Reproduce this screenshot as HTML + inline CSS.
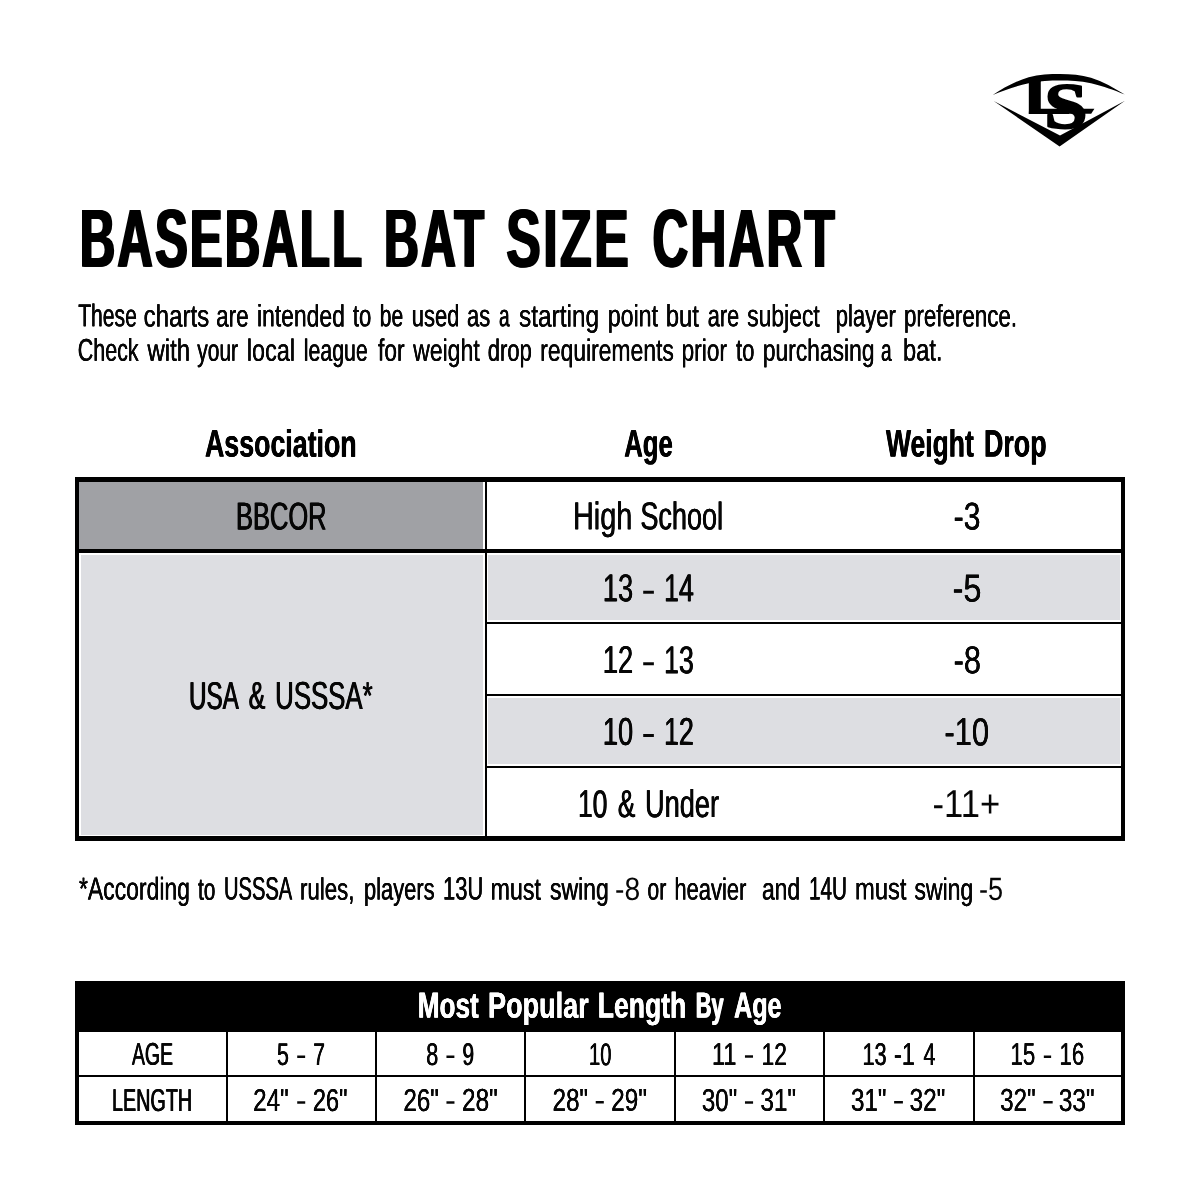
<!DOCTYPE html>
<html lang="en">
<head>
<meta charset="utf-8">
<title>Baseball Bat Size Chart</title>
<style>
html,body{margin:0;padding:0;background:#fff;}
body{width:1200px;height:1200px;position:relative;overflow:hidden;font-family:"Liberation Sans",sans-serif;color:#060606;}
h1,p{margin:0;font-weight:inherit;font-size:inherit}
.b{position:absolute;}
.t{position:absolute;left:0;top:0;display:block;white-space:pre;line-height:1;transform-origin:0 0;}
.k{background:#000;}
.w{background:#fff;}
.g1{background:#a0a1a5;}
.g2{background:#dddee2;}
</style>
</head>
<body>
<!-- logo -->
<svg class="b" style="left:980px;top:60px" width="160" height="100" viewBox="980 60 160 100">
<defs><clipPath id="lc"><path d="M1028.7 76H1041V104H1090V114H1028.7Z"/></clipPath></defs>
<g fill="#000">
<path d="M992.7 94.9C1003 88.3 1015 81.3 1028.7 77.2C1039 74.4 1050 73.9 1060 73.9C1071 73.9 1081 74.8 1091 77.8C1103 81.6 1114 88 1124.8 94.5C1114 90 1104 86.4 1091 83.2C1080 80.8 1070 80.4 1060 80.4C1050 80.4 1040 80.8 1028.7 83.2C1016 86.2 1004 90.2 992.7 94.9Z"/>
<path d="M993.7 101.1L1059.6 146.5L1125 100.7L1060 135.6Z"/>
<path d="M1029 108.8H1094.4L1091.2 113.7H1029Z"/>
<g clip-path="url(#lc)"><text x="0" y="0" transform="translate(1020.3 113.7) scale(1.55 1)" font-family="'Liberation Serif',serif" font-weight="700" font-size="52">L</text></g>
<text x="0" y="0" transform="translate(1044.2 128.2) scale(1.18 1)" font-family="'Liberation Serif',serif" font-weight="700" font-size="66" stroke="#000" stroke-width="2" stroke-linejoin="round">S</text>
</g>

</svg>

<!-- association / age / weight-drop table -->
<div class="tbl1">
<div class="b k" style="left:75px;top:477px;width:1050px;height:363.6px"></div>
<div class="b w" style="left:79.2px;top:481.5px;width:1041.8px;height:354.6px"></div>
<div class="b g1" style="left:79px;top:482px;width:404px;height:67px"></div>
<div class="b g2" style="left:81px;top:555px;width:402px;height:280px"></div>
<div class="b g2" style="left:488px;top:555px;width:632px;height:65px"></div>
<div class="b g2" style="left:488px;top:698px;width:632px;height:66px"></div>
<div class="b k" style="left:484.8px;top:481px;width:2.4px;height:355.5px"></div>
<div class="b k" style="left:79px;top:549px;width:1042.2px;height:4px"></div>
<div class="b k" style="left:487px;top:621.8px;width:634.2px;height:2px"></div>
<div class="b k" style="left:487px;top:694px;width:634.2px;height:1.9px"></div>
<div class="b k" style="left:487px;top:766px;width:634.2px;height:1.9px"></div>
</div>

<!-- most popular length by age table -->
<div class="tbl2">
<div class="b k" style="left:75px;top:981.3px;width:1050px;height:143.7px"></div>
<div class="b w" style="left:79.2px;top:1031.8px;width:1041.8px;height:89px"></div>
<div class="b k" style="left:225.6px;top:1031.5px;width:2px;height:89.5px"></div>
<div class="b k" style="left:375px;top:1031.5px;width:2px;height:89.5px"></div>
<div class="b k" style="left:524.4px;top:1031.5px;width:2px;height:89.5px"></div>
<div class="b k" style="left:673.8px;top:1031.5px;width:2px;height:89.5px"></div>
<div class="b k" style="left:823.2px;top:1031.5px;width:2px;height:89.5px"></div>
<div class="b k" style="left:972.6px;top:1031.5px;width:2px;height:89.5px"></div>
<div class="b k" style="left:79px;top:1075px;width:1042.2px;height:2.1px"></div>
</div>

<!-- text -->
<h1>
<span class="t" style="font-size:82.56px;transform:matrix(0.5884,0.0005,0,1,80.00,196.80);font-weight:700;color:#000;letter-spacing:4.25px;text-shadow:2.09px 0 0 currentColor,-2.09px 0 0 currentColor;">BASEBALL </span>
<span class="t" style="font-size:82.56px;transform:matrix(0.5785,0.0005,0,1,384.20,196.80);font-weight:700;color:#000;letter-spacing:4.32px;text-shadow:2.23px 0 0 currentColor,-2.23px 0 0 currentColor;">BAT </span>
<span class="t" style="font-size:82.56px;transform:matrix(0.6268,0.0005,0,1,506.20,196.84);font-weight:700;color:#000;letter-spacing:3.99px;text-shadow:1.59px 0 0 currentColor,-1.59px 0 0 currentColor;">SIZE </span>
<span class="t" style="font-size:82.56px;transform:matrix(0.5958,0.0005,0,1,652.60,196.78);font-weight:700;color:#000;letter-spacing:4.20px;text-shadow:1.99px 0 0 currentColor,-1.99px 0 0 currentColor;">CHART </span>
</h1>
<p>
<span class="t" style="font-size:31.54px;transform:matrix(0.6695,0.001,0,1,78.20,300.32);text-shadow:0.33px 0 0 currentColor,-0.33px 0 0 currentColor;">These </span>
<span class="t" style="font-size:30.81px;transform:matrix(0.7826,0.001,0,1,143.60,301.47);text-shadow:0.10px 0 0 currentColor,-0.10px 0 0 currentColor;">charts </span>
<span class="t" style="font-size:30.81px;transform:matrix(0.7295,0.001,0,1,216.20,301.50);text-shadow:0.22px 0 0 currentColor,-0.22px 0 0 currentColor;">are </span>
<span class="t" style="font-size:30.81px;transform:matrix(0.7436,0.001,0,1,257.00,301.32);text-shadow:0.18px 0 0 currentColor,-0.18px 0 0 currentColor;">intended </span>
<span class="t" style="font-size:30.81px;transform:matrix(0.7191,0.001,0,1,352.80,301.25);text-shadow:0.24px 0 0 currentColor,-0.24px 0 0 currentColor;">to </span>
<span class="t" style="font-size:30.81px;transform:matrix(0.6814,0.001,0,1,379.80,301.30);text-shadow:0.33px 0 0 currentColor,-0.33px 0 0 currentColor;">be </span>
<span class="t" style="font-size:30.81px;transform:matrix(0.7116,0.001,0,1,411.80,301.30);text-shadow:0.26px 0 0 currentColor,-0.26px 0 0 currentColor;">used </span>
<span class="t" style="font-size:30.81px;transform:matrix(0.7124,0.001,0,1,467.00,301.28);text-shadow:0.26px 0 0 currentColor,-0.26px 0 0 currentColor;">as </span>
<span class="t" style="font-size:30.81px;transform:matrix(0.6182,0.001,0,1,499.00,301.37);text-shadow:0.52px 0 0 currentColor,-0.52px 0 0 currentColor;">a </span>
<span class="t" style="font-size:30.81px;transform:matrix(0.7935,0.001,0,1,519.00,301.52);text-shadow:0.08px 0 0 currentColor,-0.08px 0 0 currentColor;">starting </span>
<span class="t" style="font-size:30.81px;transform:matrix(0.7526,0.001,0,1,607.80,301.26);text-shadow:0.16px 0 0 currentColor,-0.16px 0 0 currentColor;">point </span>
<span class="t" style="font-size:30.81px;transform:matrix(0.7725,0.001,0,1,665.80,301.37);text-shadow:0.12px 0 0 currentColor,-0.12px 0 0 currentColor;">but </span>
<span class="t" style="font-size:30.81px;transform:matrix(0.7051,0.001,0,1,707.80,301.27);text-shadow:0.27px 0 0 currentColor,-0.27px 0 0 currentColor;">are </span>
<span class="t" style="font-size:30.81px;transform:matrix(0.7429,0.001,0,1,747.20,301.30);text-shadow:0.19px 0 0 currentColor,-0.19px 0 0 currentColor;">subject </span>
<span class="t" style="font-size:30.81px;transform:matrix(0.7153,0.001,0,1,835.80,301.32);text-shadow:0.25px 0 0 currentColor,-0.25px 0 0 currentColor;">player </span>
<span class="t" style="font-size:30.81px;transform:matrix(0.7256,0.001,0,1,904.00,301.31);text-shadow:0.22px 0 0 currentColor,-0.22px 0 0 currentColor;">preference. </span>
</p>
<p>
<span class="t" style="font-size:31.54px;transform:matrix(0.6802,0.001,0,1,77.80,334.65);text-shadow:0.30px 0 0 currentColor,-0.30px 0 0 currentColor;">Check </span>
<span class="t" style="font-size:30.81px;transform:matrix(0.7801,0.001,0,1,147.40,335.66);text-shadow:0.11px 0 0 currentColor,-0.11px 0 0 currentColor;">with </span>
<span class="t" style="font-size:30.81px;transform:matrix(0.6818,0.001,0,1,197.20,335.66);text-shadow:0.33px 0 0 currentColor,-0.33px 0 0 currentColor;">your </span>
<span class="t" style="font-size:30.81px;transform:matrix(0.7617,0.001,0,1,246.80,335.68);text-shadow:0.14px 0 0 currentColor,-0.14px 0 0 currentColor;">local </span>
<span class="t" style="font-size:30.81px;transform:matrix(0.6913,0.001,0,1,303.80,335.64);text-shadow:0.31px 0 0 currentColor,-0.31px 0 0 currentColor;">league </span>
<span class="t" style="font-size:30.81px;transform:matrix(0.7398,0.001,0,1,378.00,335.62);text-shadow:0.19px 0 0 currentColor,-0.19px 0 0 currentColor;">for </span>
<span class="t" style="font-size:30.81px;transform:matrix(0.7471,0.001,0,1,413.20,335.73);text-shadow:0.18px 0 0 currentColor,-0.18px 0 0 currentColor;">weight </span>
<span class="t" style="font-size:30.81px;transform:matrix(0.7144,0.001,0,1,487.80,335.76);text-shadow:0.25px 0 0 currentColor,-0.25px 0 0 currentColor;">drop </span>
<span class="t" style="font-size:30.81px;transform:matrix(0.7435,0.001,0,1,540.20,335.70);text-shadow:0.18px 0 0 currentColor,-0.18px 0 0 currentColor;">requirements </span>
<span class="t" style="font-size:30.81px;transform:matrix(0.7366,0.001,0,1,681.60,335.72);text-shadow:0.20px 0 0 currentColor,-0.20px 0 0 currentColor;">prior </span>
<span class="t" style="font-size:30.81px;transform:matrix(0.7166,0.001,0,1,736.00,335.74);text-shadow:0.25px 0 0 currentColor,-0.25px 0 0 currentColor;">to </span>
<span class="t" style="font-size:30.81px;transform:matrix(0.7412,0.001,0,1,762.80,335.69);text-shadow:0.19px 0 0 currentColor,-0.19px 0 0 currentColor;">purchasing </span>
<span class="t" style="font-size:30.81px;transform:matrix(0.6182,0.001,0,1,881.00,335.83);text-shadow:0.52px 0 0 currentColor,-0.52px 0 0 currentColor;">a </span>
<span class="t" style="font-size:30.81px;transform:matrix(0.7694,0.001,0,1,903.00,335.54);text-shadow:0.13px 0 0 currentColor,-0.13px 0 0 currentColor;">bat. </span>
</p>
<div>
<span class="t" style="font-size:38.08px;transform:matrix(0.7027,0.001,0,1,205.00,424.51);font-weight:700;color:#000;text-shadow:0.30px 0 0 currentColor,-0.30px 0 0 currentColor;">Association </span>
<span class="t" style="font-size:38.08px;transform:matrix(0.6744,0.001,0,1,624.20,424.51);font-weight:700;color:#000;text-shadow:0.43px 0 0 currentColor,-0.43px 0 0 currentColor;">Age </span>
<span class="t" style="font-size:38.08px;transform:matrix(0.6958,0.001,0,1,886.00,424.48);font-weight:700;color:#000;text-shadow:0.33px 0 0 currentColor,-0.33px 0 0 currentColor;">Weight </span>
<span class="t" style="font-size:38.08px;transform:matrix(0.7041,0.001,0,1,984.00,424.49);font-weight:700;color:#000;text-shadow:0.29px 0 0 currentColor,-0.29px 0 0 currentColor;">Drop </span>
</div>
<div>
<span class="t" style="font-size:38.81px;transform:matrix(0.6566,0.001,0,1,236.00,497.41);text-shadow:0.63px 0 0 currentColor,-0.63px 0 0 currentColor;">BBCOR </span>
<span class="t" style="font-size:38.81px;transform:matrix(0.7442,0.001,0,1,573.00,497.21);text-shadow:0.34px 0 0 currentColor,-0.34px 0 0 currentColor;">High </span>
<span class="t" style="font-size:38.81px;transform:matrix(0.6967,0.001,0,1,640.40,497.32);text-shadow:0.49px 0 0 currentColor,-0.49px 0 0 currentColor;">School </span>
<span class="t" style="font-size:38.81px;transform:matrix(0.7795,0.001,0,1,953.60,497.47);text-shadow:0.24px 0 0 currentColor,-0.24px 0 0 currentColor;">-3 </span>
</div>
<div>
<span class="t" style="font-size:38.81px;transform:matrix(0.6239,0.001,0,1,189.00,677.02);text-shadow:0.76px 0 0 currentColor,-0.76px 0 0 currentColor;">USA </span>
<span class="t" style="font-size:38.81px;transform:matrix(0.6367,0.001,0,1,248.80,676.80);text-shadow:0.71px 0 0 currentColor,-0.71px 0 0 currentColor;">&amp; </span>
<span class="t" style="font-size:38.81px;transform:matrix(0.6641,0.001,0,1,275.20,676.80);text-shadow:0.60px 0 0 currentColor,-0.60px 0 0 currentColor;">USSSA* </span>
</div>
<div>
<span class="t" style="font-size:38.81px;transform:matrix(0.7029,0.001,0,1,602.80,569.32);text-shadow:0.47px 0 0 currentColor,-0.47px 0 0 currentColor;">13 </span>
<span class="t" style="font-size:38.81px;transform:matrix(1.1288,0.001,0,1,641.20,570.46);">- </span>
<span class="t" style="font-size:38.81px;transform:matrix(0.6928,0.001,0,1,664.00,569.16);text-shadow:0.50px 0 0 currentColor,-0.50px 0 0 currentColor;">14 </span>
<span class="t" style="font-size:38.81px;transform:matrix(0.8360,0.001,0,1,952.60,569.37);text-shadow:0.10px 0 0 currentColor,-0.10px 0 0 currentColor;">-5 </span>
</div>
<div>
<span class="t" style="font-size:38.81px;transform:matrix(0.7029,0.001,0,1,602.80,640.92);text-shadow:0.47px 0 0 currentColor,-0.47px 0 0 currentColor;">12 </span>
<span class="t" style="font-size:38.81px;transform:matrix(1.1288,0.001,0,1,641.20,642.03);">- </span>
<span class="t" style="font-size:38.81px;transform:matrix(0.6928,0.001,0,1,664.00,641.15);text-shadow:0.50px 0 0 currentColor,-0.50px 0 0 currentColor;">13 </span>
<span class="t" style="font-size:38.81px;transform:matrix(0.7953,0.001,0,1,953.60,641.18);text-shadow:0.20px 0 0 currentColor,-0.20px 0 0 currentColor;">-8 </span>
</div>
<div>
<span class="t" style="font-size:38.81px;transform:matrix(0.7029,0.001,0,1,602.80,712.85);text-shadow:0.47px 0 0 currentColor,-0.47px 0 0 currentColor;">10 </span>
<span class="t" style="font-size:38.81px;transform:matrix(1.1288,0.001,0,1,641.20,713.82);">- </span>
<span class="t" style="font-size:38.81px;transform:matrix(0.6928,0.001,0,1,664.00,712.78);text-shadow:0.50px 0 0 currentColor,-0.50px 0 0 currentColor;">12 </span>
<span class="t" style="font-size:38.81px;transform:matrix(0.7972,0.001,0,1,944.40,713.10);text-shadow:0.19px 0 0 currentColor,-0.19px 0 0 currentColor;">-10 </span>
</div>
<div>
<span class="t" style="font-size:38.81px;transform:matrix(0.6829,0.001,0,1,578.00,785.12);text-shadow:0.54px 0 0 currentColor,-0.54px 0 0 currentColor;">10 </span>
<span class="t" style="font-size:38.81px;transform:matrix(0.6727,0.001,0,1,617.80,784.95);text-shadow:0.57px 0 0 currentColor,-0.57px 0 0 currentColor;">&amp; </span>
<span class="t" style="font-size:38.81px;transform:matrix(0.7005,0.001,0,1,645.00,785.03);text-shadow:0.48px 0 0 currentColor,-0.48px 0 0 currentColor;">Under </span>
<span class="t" style="font-size:38.81px;transform:matrix(0.8913,0.001,0,1,932.60,785.03);">-11+ </span>
</div>
<p>
<span class="t" style="font-size:31.54px;transform:matrix(0.7280,0.001,0,1,79.00,873.47);text-shadow:0.18px 0 0 currentColor,-0.18px 0 0 currentColor;">*According </span>
<span class="t" style="font-size:30.81px;transform:matrix(0.6800,0.001,0,1,198.00,874.63);text-shadow:0.34px 0 0 currentColor,-0.34px 0 0 currentColor;">to </span>
<span class="t" style="font-size:32.27px;transform:matrix(0.6235,0.001,0,1,224.00,872.51);text-shadow:0.43px 0 0 currentColor,-0.43px 0 0 currentColor;">USSSA </span>
<span class="t" style="font-size:30.81px;transform:matrix(0.7228,0.001,0,1,300.00,874.58);text-shadow:0.23px 0 0 currentColor,-0.23px 0 0 currentColor;">rules, </span>
<span class="t" style="font-size:30.81px;transform:matrix(0.7109,0.001,0,1,364.00,874.45);text-shadow:0.26px 0 0 currentColor,-0.26px 0 0 currentColor;">players </span>
<span class="t" style="font-size:32.27px;transform:matrix(0.6800,0.001,0,1,443.00,872.58);text-shadow:0.27px 0 0 currentColor,-0.27px 0 0 currentColor;">13U </span>
<span class="t" style="font-size:30.81px;transform:matrix(0.7543,0.001,0,1,490.60,874.59);text-shadow:0.16px 0 0 currentColor,-0.16px 0 0 currentColor;">must </span>
<span class="t" style="font-size:30.81px;transform:matrix(0.7467,0.001,0,1,550.00,874.46);text-shadow:0.18px 0 0 currentColor,-0.18px 0 0 currentColor;">swing </span>
<span class="t" style="font-size:32.27px;transform:matrix(0.8745,0.001,0,1,615.00,872.96);">-8 </span>
<span class="t" style="font-size:30.81px;transform:matrix(0.6886,0.001,0,1,647.40,874.47);text-shadow:0.32px 0 0 currentColor,-0.32px 0 0 currentColor;">or </span>
<span class="t" style="font-size:30.81px;transform:matrix(0.7125,0.001,0,1,674.40,874.60);text-shadow:0.26px 0 0 currentColor,-0.26px 0 0 currentColor;">heavier </span>
<span class="t" style="font-size:30.81px;transform:matrix(0.7418,0.001,0,1,762.00,874.52);text-shadow:0.19px 0 0 currentColor,-0.19px 0 0 currentColor;">and </span>
<span class="t" style="font-size:32.27px;transform:matrix(0.6437,0.001,0,1,809.00,872.48);text-shadow:0.37px 0 0 currentColor,-0.37px 0 0 currentColor;">14U </span>
<span class="t" style="font-size:30.81px;transform:matrix(0.7713,0.001,0,1,855.00,874.33);text-shadow:0.12px 0 0 currentColor,-0.12px 0 0 currentColor;">must </span>
<span class="t" style="font-size:30.81px;transform:matrix(0.7481,0.001,0,1,914.40,874.62);text-shadow:0.17px 0 0 currentColor,-0.17px 0 0 currentColor;">swing </span>
<span class="t" style="font-size:32.27px;transform:matrix(0.8395,0.001,0,1,979.00,872.96);">-5 </span>
</p>
<div>
<span class="t" style="font-size:35.90px;transform:matrix(0.7283,0.001,0,1,417.80,988.60);font-weight:700;color:#fff;text-shadow:0.28px 0 0 currentColor,-0.28px 0 0 currentColor;">Most </span>
<span class="t" style="font-size:35.90px;transform:matrix(0.7541,0.001,0,1,488.00,988.56);font-weight:700;color:#fff;text-shadow:0.18px 0 0 currentColor,-0.18px 0 0 currentColor;">Popular </span>
<span class="t" style="font-size:35.90px;transform:matrix(0.7394,0.001,0,1,597.80,988.57);font-weight:700;color:#fff;text-shadow:0.24px 0 0 currentColor,-0.24px 0 0 currentColor;">Length </span>
<span class="t" style="font-size:35.90px;transform:matrix(0.6077,0.001,0,1,695.80,988.50);font-weight:700;color:#fff;text-shadow:0.85px 0 0 currentColor,-0.85px 0 0 currentColor;">By </span>
<span class="t" style="font-size:35.90px;transform:matrix(0.7017,0.001,0,1,734.00,988.56);font-weight:700;color:#fff;text-shadow:0.39px 0 0 currentColor,-0.39px 0 0 currentColor;">Age </span>
</div>
<div>
<span class="t" style="font-size:31.40px;transform:matrix(0.6182,0.001,0,1,132.00,1038.76);text-shadow:0.57px 0 0 currentColor,-0.57px 0 0 currentColor;">AGE </span>
<span class="t" style="font-size:31.40px;transform:matrix(0.6800,0.001,0,1,277.00,1039.00);text-shadow:0.38px 0 0 currentColor,-0.38px 0 0 currentColor;">5 </span>
<span class="t" style="font-size:31.40px;transform:matrix(1.0348,0.001,0,1,295.80,1038.99);">- </span>
<span class="t" style="font-size:31.40px;transform:matrix(0.6685,0.001,0,1,313.20,1039.08);text-shadow:0.42px 0 0 currentColor,-0.42px 0 0 currentColor;">7 </span>
<span class="t" style="font-size:31.40px;transform:matrix(0.6869,0.001,0,1,426.20,1039.04);text-shadow:0.36px 0 0 currentColor,-0.36px 0 0 currentColor;">8 </span>
<span class="t" style="font-size:31.40px;transform:matrix(1.0348,0.001,0,1,445.00,1039.02);">- </span>
<span class="t" style="font-size:31.40px;transform:matrix(0.6685,0.001,0,1,462.40,1039.06);text-shadow:0.42px 0 0 currentColor,-0.42px 0 0 currentColor;">9 </span>
<span class="t" style="font-size:31.40px;transform:matrix(0.6420,0.001,0,1,589.00,1039.12);text-shadow:0.49px 0 0 currentColor,-0.49px 0 0 currentColor;">10 </span>
<span class="t" style="font-size:31.40px;transform:matrix(0.7497,0.001,0,1,712.00,1038.85);text-shadow:0.21px 0 0 currentColor,-0.21px 0 0 currentColor;">11 </span>
<span class="t" style="font-size:31.40px;transform:matrix(1.0497,0.001,0,1,743.40,1038.86);">- </span>
<span class="t" style="font-size:31.40px;transform:matrix(0.7255,0.001,0,1,761.60,1038.90);text-shadow:0.27px 0 0 currentColor,-0.27px 0 0 currentColor;">12 </span>
<span class="t" style="font-size:31.40px;transform:matrix(0.6931,0.001,0,1,862.40,1038.97);text-shadow:0.35px 0 0 currentColor,-0.35px 0 0 currentColor;">13 </span>
<span class="t" style="font-size:31.40px;transform:matrix(0.7481,0.001,0,1,894.00,1038.80);text-shadow:0.21px 0 0 currentColor,-0.21px 0 0 currentColor;">-1 </span>
<span class="t" style="font-size:31.40px;transform:matrix(0.6800,0.001,0,1,923.60,1039.11);text-shadow:0.38px 0 0 currentColor,-0.38px 0 0 currentColor;">4 </span>
<span class="t" style="font-size:31.40px;transform:matrix(0.7042,0.001,0,1,1010.60,1038.83);text-shadow:0.32px 0 0 currentColor,-0.32px 0 0 currentColor;">15 </span>
<span class="t" style="font-size:31.40px;transform:matrix(0.9520,0.001,0,1,1042.60,1039.05);">- </span>
<span class="t" style="font-size:31.40px;transform:matrix(0.7042,0.001,0,1,1059.60,1038.83);text-shadow:0.32px 0 0 currentColor,-0.32px 0 0 currentColor;">16 </span>
</div>
<div>
<span class="t" style="font-size:31.69px;transform:matrix(0.6234,0.001,0,1,112.00,1084.92);text-shadow:0.54px 0 0 currentColor,-0.54px 0 0 currentColor;">LENGTH </span>
<span class="t" style="font-size:31.69px;transform:matrix(0.7617,0.001,0,1,253.20,1085.03);text-shadow:0.17px 0 0 currentColor,-0.17px 0 0 currentColor;">24" </span>
<span class="t" style="font-size:31.69px;transform:matrix(1.0348,0.001,0,1,295.80,1084.88);">- </span>
<span class="t" style="font-size:31.69px;transform:matrix(0.7460,0.001,0,1,312.80,1084.99);text-shadow:0.20px 0 0 currentColor,-0.20px 0 0 currentColor;">26" </span>
<span class="t" style="font-size:31.69px;transform:matrix(0.7617,0.001,0,1,403.40,1085.00);text-shadow:0.17px 0 0 currentColor,-0.17px 0 0 currentColor;">26" </span>
<span class="t" style="font-size:31.69px;transform:matrix(1.0348,0.001,0,1,445.00,1084.92);">- </span>
<span class="t" style="font-size:31.69px;transform:matrix(0.7686,0.001,0,1,462.00,1084.80);text-shadow:0.15px 0 0 currentColor,-0.15px 0 0 currentColor;">28" </span>
<span class="t" style="font-size:31.69px;transform:matrix(0.7617,0.001,0,1,552.60,1084.82);text-shadow:0.17px 0 0 currentColor,-0.17px 0 0 currentColor;">28" </span>
<span class="t" style="font-size:31.69px;transform:matrix(1.0477,0.001,0,1,594.20,1084.87);">- </span>
<span class="t" style="font-size:31.69px;transform:matrix(0.7686,0.001,0,1,611.20,1084.78);text-shadow:0.15px 0 0 currentColor,-0.15px 0 0 currentColor;">29" </span>
<span class="t" style="font-size:31.69px;transform:matrix(0.7617,0.001,0,1,701.80,1084.89);text-shadow:0.17px 0 0 currentColor,-0.17px 0 0 currentColor;">30" </span>
<span class="t" style="font-size:31.69px;transform:matrix(1.0477,0.001,0,1,743.40,1084.90);">- </span>
<span class="t" style="font-size:31.69px;transform:matrix(0.7686,0.001,0,1,760.40,1084.81);text-shadow:0.15px 0 0 currentColor,-0.15px 0 0 currentColor;">31" </span>
<span class="t" style="font-size:31.69px;transform:matrix(0.7617,0.001,0,1,851.00,1084.78);text-shadow:0.17px 0 0 currentColor,-0.17px 0 0 currentColor;">31" </span>
<span class="t" style="font-size:31.69px;transform:matrix(1.1404,0.001,0,1,892.60,1084.83);">- </span>
<span class="t" style="font-size:31.69px;transform:matrix(0.7686,0.001,0,1,909.60,1084.74);text-shadow:0.15px 0 0 currentColor,-0.15px 0 0 currentColor;">32" </span>
<span class="t" style="font-size:31.69px;transform:matrix(0.7617,0.001,0,1,1000.20,1084.78);text-shadow:0.17px 0 0 currentColor,-0.17px 0 0 currentColor;">32" </span>
<span class="t" style="font-size:31.69px;transform:matrix(1.1974,0.001,0,1,1041.80,1084.87);">- </span>
<span class="t" style="font-size:31.69px;transform:matrix(0.7693,0.001,0,1,1058.80,1085.06);text-shadow:0.15px 0 0 currentColor,-0.15px 0 0 currentColor;">33" </span>
</div>
</body>
</html>
